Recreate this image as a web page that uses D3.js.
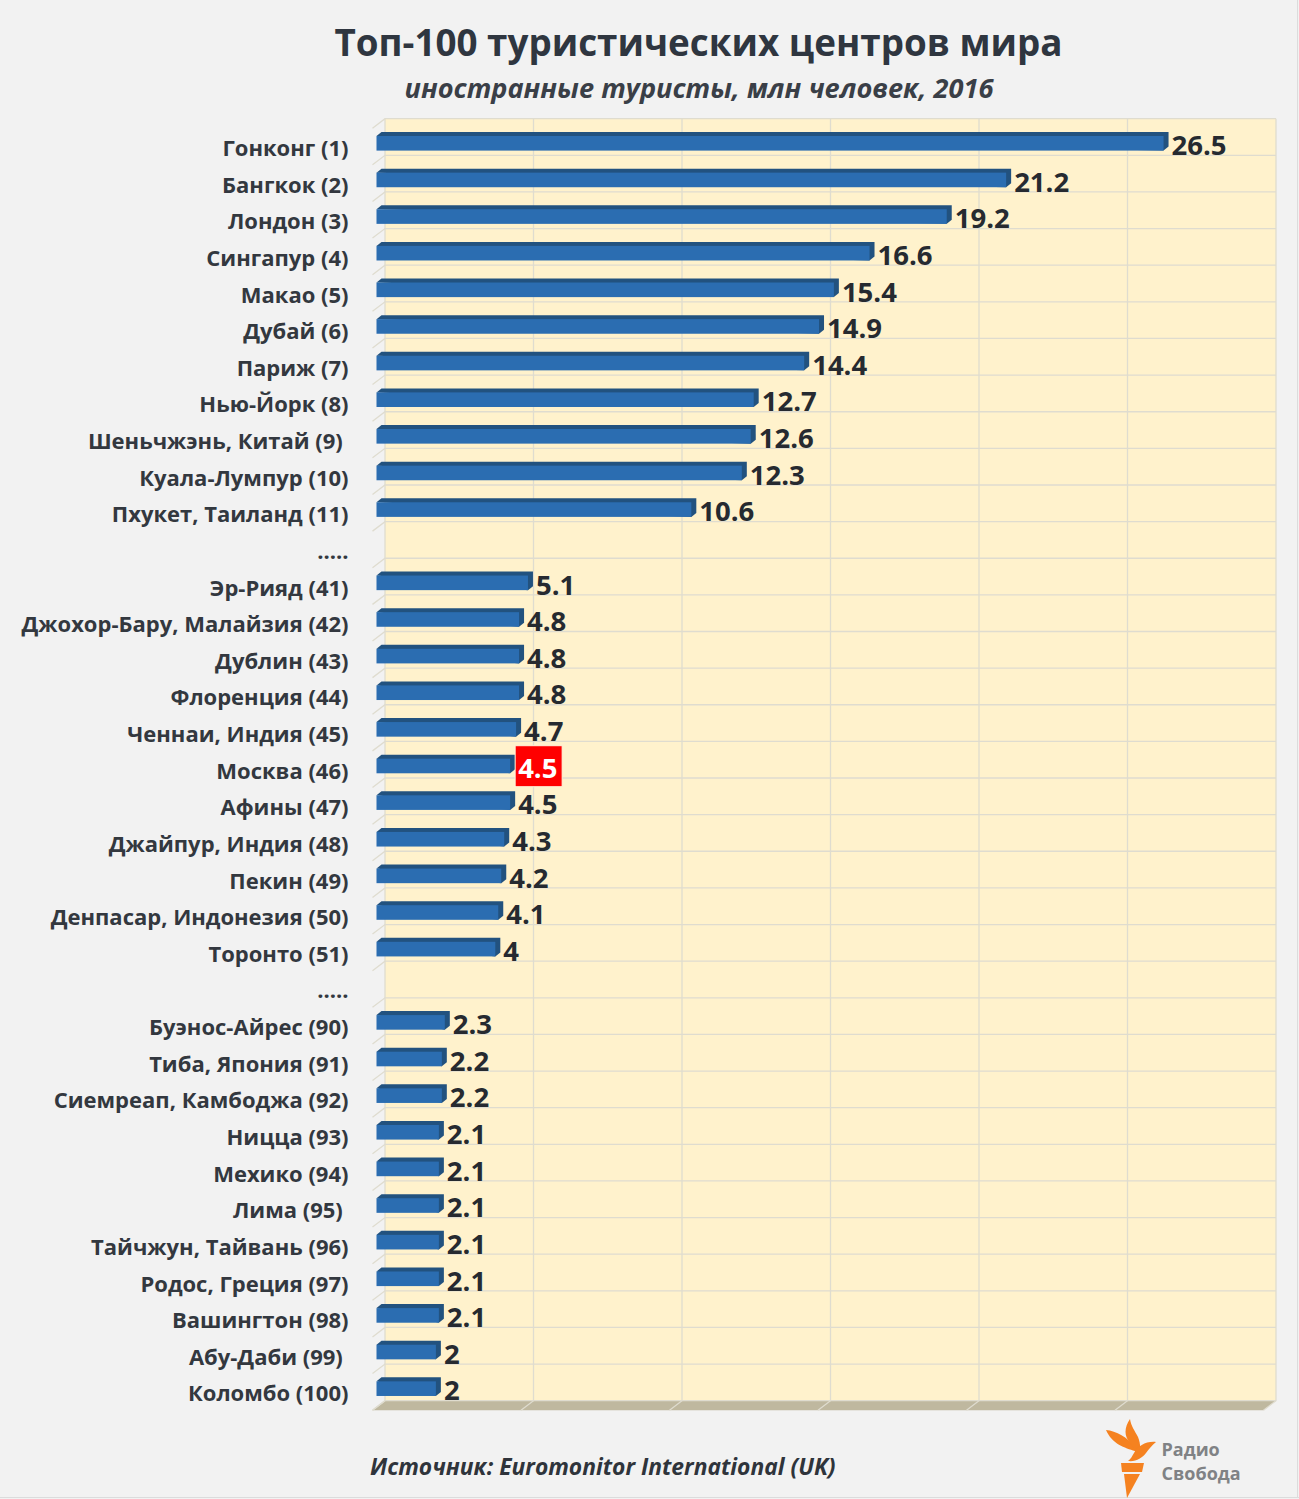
<!DOCTYPE html>
<html>
<head>
<meta charset="utf-8">
<script src="https://d3js.org/d3.v7.min.js"></script>
<style>
    html, body { margin: 0; padding: 0; background: #f2f2f2; }
    svg { display: block; }
    text { font-family: "Open Sans", "Noto Sans", sans-serif; }
</style>
</head>
<body>
<svg id="chart"></svg>
<script>
const labels = ["Гонконг (1)", "Бангкок (2)", "Лондон (3)", "Сингапур (4)", "Макао (5)", "Дубай (6)", "Париж (7)",
    "Нью-Йорк (8)", "Шеньчжэнь, Китай (9) ", "Куала-Лумпур (10)", "Пхукет, Таиланд (11)", ".....",
    "Эр-Рияд (41)", "Джохор-Бару, Малайзия (42)", "Дублин (43)", "Флоренция (44)", "Ченнаи, Индия (45)", "Москва (46)",
    "Афины (47)", "Джайпур, Индия (48)", "Пекин (49)", "Денпасар, Индонезия (50)", "Торонто (51)", ".....",
    "Буэнос-Айрес (90)", "Тиба, Япония (91)", "Сиемреап, Камбоджа (92)", "Ницца (93)", "Мехико (94)", "Лима (95) ",
    "Тайчжун, Тайвань (96)", "Родос, Греция (97)", "Вашингтон (98)", "Абу-Даби (99) ", "Коломбо (100)"];
const values = [26.5, 21.2, 19.2, 16.6, 15.4, 14.9, 14.4, 12.7, 12.6, 12.3, 10.6, null,
    5.1, 4.8, 4.8, 4.8, 4.7, 4.5, 4.5, 4.3, 4.2, 4.1, 4, null,
    2.3, 2.2, 2.2, 2.1, 2.1, 2.1, 2.1, 2.1, 2.1, 2, 2];
const highlight = "Москва (46)";
const xTicks = [0, 5, 10, 15, 20, 25, 30];

const width = 1299, height = 1499;
const wall = { left: 385, right: 1276, top: 118.7, bottom: 1400.7 };
const depth = { x: 12.5, y: 9.5 };

const svg = d3.select("#chart").attr("width", width).attr("height", height);

const x = d3.scaleLinear().domain([0, 30]).range([wall.left, wall.right]);
const y = d3.scaleBand().domain(d3.range(labels.length)).range([wall.top, wall.bottom]);

// page
svg.append("rect").attr("width", width).attr("height", height).attr("fill", "#f2f2f2");
svg.append("path").attr("d", `M0,1497.5H${width}M1297.5,0V1497.5`).attr("stroke", "#dcdcdc").attr("fill", "none");

// title
svg.append("text").attr("x", 698.5).attr("y", 56).attr("text-anchor", "middle")
    .attr("font-size", 36.8).attr("font-weight", 700).attr("fill", "#2f3640")
    .text("Топ-100 туристических центров мира");
svg.append("text").attr("x", 699).attr("y", 98).attr("text-anchor", "middle")
    .attr("font-size", 27.2).attr("font-weight", 700).attr("font-style", "italic").attr("fill", "#3a3f47")
    .text("иностранные туристы, млн человек, 2016");

// back wall and floor
svg.append("rect").attr("x", wall.left).attr("y", wall.top)
    .attr("width", wall.right - wall.left).attr("height", wall.bottom - wall.top).attr("fill", "#fff2cc");
svg.append("path")
    .attr("d", `M${wall.left},${wall.bottom}H${wall.right}l${-depth.x},${depth.y}H${wall.left - depth.x}Z`)
    .attr("fill", "#bfb89f");

// grid
const gridColor = "#dfdccf";
const rowEdges = d3.range(labels.length).map(i => y(i)).concat(wall.bottom);
svg.append("g").selectAll("path").data(rowEdges).join("path")
    .attr("d", d => `M${wall.left - depth.x},${d + depth.y}L${wall.left},${d}H${wall.right}`)
    .attr("fill", "none").attr("stroke", gridColor).attr("stroke-width", 1.3);
svg.append("g").selectAll("path").data(xTicks).join("path")
    .attr("d", d => `M${x(d)},${wall.top}V${wall.bottom}l${-depth.x},${depth.y}`)
    .attr("fill", "none").attr("stroke", gridColor).attr("stroke-width", 1.3);

// bars
const rows = labels.map((label, i) => ({ label, value: values[i], i }));
const bars = rows.filter(d => d.value !== null);
const frontLeft = wall.left - 8.5, barTop = 17.3, barH = 14.6, sideX = 5, sideY = 4;
const frontRight = d => x(d.value) - 8.5;

const bar = svg.append("g").selectAll("g").data(bars).join("g")
    .attr("transform", d => `translate(0,${y(d.i) + barTop})`);
bar.append("path")
    .attr("d", d => `M${frontLeft},0l${sideX},${-sideY}H${frontRight(d) + sideX}V${barH - sideY}l${-sideX},${sideY}Z`)
    .attr("fill", "#22527f");
bar.append("rect")
    .attr("x", frontLeft).attr("y", 0)
    .attr("width", d => frontRight(d) - frontLeft).attr("height", barH)
    .attr("fill", "#2b6db1");

// category labels
svg.append("g").selectAll("text").data(rows).join("text")
    .attr("x", 348.5)
    .attr("y", d => y(d.i) + y.bandwidth() / 2 + 19)
    .attr("text-anchor", "end")
    .style("white-space", "pre")
    .attr("font-size", 22).attr("font-weight", 700).attr("fill", "#33383f")
    .text(d => d.label);

// value labels
const valueX = d => frontRight(d) + sideX + 3;
const valueY = d => y(d.i) + y.bandwidth() / 2 + 18;
const boxed = bars.find(d => d.label === highlight);
svg.append("rect")
    .attr("x", valueX(boxed) - 3).attr("y", y(boxed.i) + y.bandwidth() / 2 - 14)
    .attr("width", 47).attr("height", 41)
    .attr("fill", "#ff0000").attr("stroke", "#fff6dc").attr("stroke-width", 1);
svg.append("g").selectAll("text").data(bars).join("text")
    .attr("x", valueX)
    .attr("y", valueY)
    .attr("font-size", 27.5).attr("font-weight", 700)
    .attr("fill", d => d === boxed ? "#ffffff" : "#262a30")
    .text(d => d.value);

// source
svg.append("text").attr("x", 370).attr("y", 1475)
    .attr("font-size", 22.8).attr("font-weight", 700).attr("font-style", "italic").attr("fill", "#2f343b")
    .text("Источник: Euromonitor International (UK)");

// logo
const logo = svg.append("g").attr("fill", "#f58220");
logo.append("path").attr("d", "M1106,1430C1116,1431 1128,1437 1134,1447C1137,1452 1138,1454 1135,1451C1125,1448 1112,1444 1106,1430Z");
logo.append("path").attr("d", "M1130,1419C1124,1428 1124,1436 1130,1443C1134,1449 1137,1453 1137,1458C1141,1452 1141,1444 1138,1437C1135,1431 1131,1426 1130,1419Z");
logo.append("path").attr("d", "M1156,1442C1146,1441 1138,1446 1134,1453C1132,1456 1131,1459 1128,1461C1136,1462 1142,1458 1146,1453C1149,1449 1152,1445 1156,1442Z");
logo.append("path").attr("d", "M1121,1463H1144L1142,1472H1122Z");
logo.append("path").attr("d", "M1124,1474H1140L1127,1498Z");
svg.append("text").attr("x", 1161.5).attr("y", 1456).attr("font-size", 18).attr("font-weight", 700).attr("fill", "#808285").text("Радио");
svg.append("text").attr("x", 1161.5).attr("y", 1480).attr("font-size", 18).attr("font-weight", 700).attr("fill", "#808285").text("Свобода");
</script>
</body>
</html>
